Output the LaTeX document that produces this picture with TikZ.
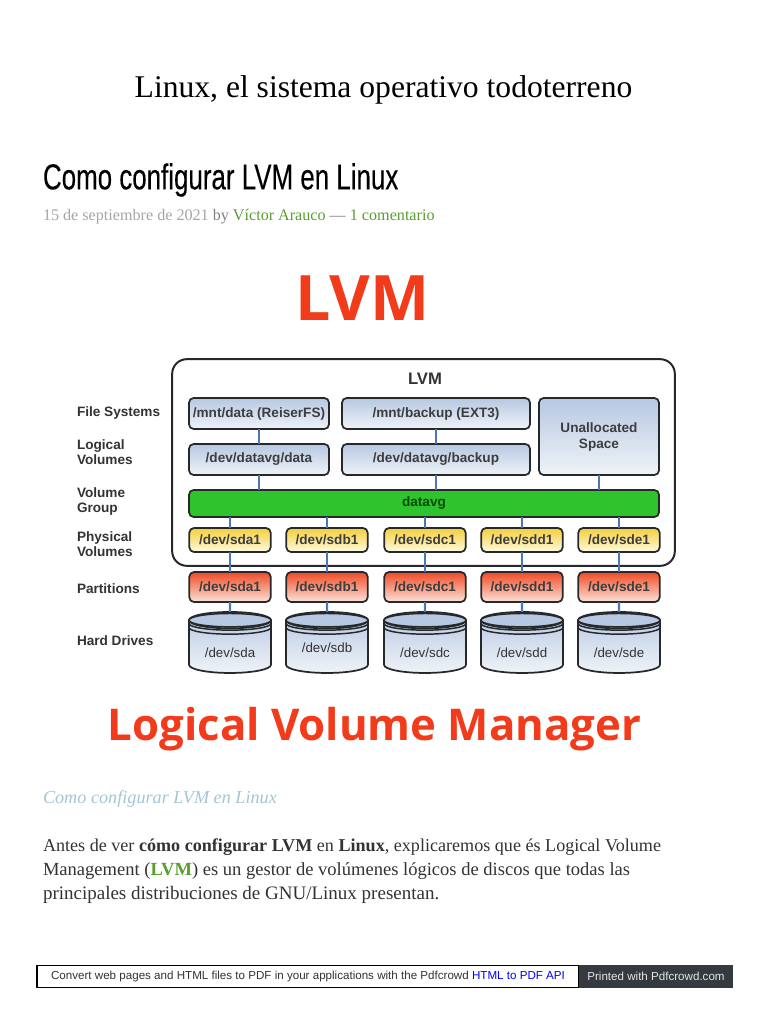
\documentclass[tikz,border=0pt]{standalone}
\usepackage{fontspec}
\setmainfont{Liberation Serif}
\newfontfamily\sansfont{Liberation Sans}
\newfontfamily\headfont[FakeStretch=0.72,FakeBold=0.2]{Liberation Sans}
\newfontfamily\redfont{Open Sans}
\usetikzlibrary{shapes.geometric}
\definecolor{linkblue}{HTML}{4A77B5}
\definecolor{boxline}{HTML}{26282B}
\definecolor{boxtop}{HTML}{B7C8E2}
\definecolor{boxend}{HTML}{EFF3F8}
\definecolor{lvmred}{HTML}{F23B1B}
\definecolor{pvtop}{HTML}{F4CF3A}
\definecolor{pvend}{HTML}{FFFBE2}
\definecolor{parttop}{HTML}{F04A25}
\definecolor{partend}{HTML}{FBE3DA}
\definecolor{vggreen}{HTML}{2EC42E}
\definecolor{linkgreen}{HTML}{5A9E2F}
\definecolor{bodygray}{HTML}{333333}
\definecolor{boxtext}{HTML}{3D3D3D}
\definecolor{footdark}{HTML}{343A40}
\newcommand{\drivetop}[1]{
    \draw[boxline, fill=boxtop, line width=1.1pt] (#1.before top) arc[start angle=180, end angle=540, x radius=30.75pt, y radius=5pt];
    \draw[boxline, line width=1.1pt] ([yshift=-2.5pt]#1.before top) arc[start angle=180, end angle=360, x radius=30.75pt, y radius=5pt];
    \draw[boxline, line width=1.1pt] ([yshift=-5.5pt]#1.before top) arc[start angle=180, end angle=360, x radius=30.75pt, y radius=5pt];
}
\begin{document}
\begin{tikzpicture}[x=0.75pt, y=-0.75pt, thick]
    \tikzstyle{every node}=[inner sep=0pt, outer sep=0pt, text=black]
    \tikzstyle{bodyline}=[anchor=west, text=bodygray]
    \tikzstyle{rowlabel}=[anchor=west, align=left, text=bodygray, font=\sansfont\bfseries\fontsize{10.2}{11.25}\selectfont]
    \tikzstyle{box}=[draw=boxline, line width=1.3pt, rounded corners=3.5pt, text=boxtext, font=\sansfont\bfseries\fontsize{10.2}{12}\selectfont, align=center]
    \tikzstyle{bluebox}=[box, top color=boxtop, bottom color=boxend]
    \tikzstyle{pvbox}=[box, top color=pvtop, bottom color=pvend, minimum width=61pt, minimum height=18pt]
    \tikzstyle{partbox}=[box, top color=parttop, bottom color=partend, minimum width=61pt, minimum height=22.5pt]
    \tikzstyle{drive}=[cylinder, shape border rotate=90, shape aspect=0.325, draw=boxline, line width=1.3pt, minimum width=61.5pt, minimum height=45.75pt, top color=boxtop, bottom color=boxend, font=\sansfont\fontsize{10}{11.25}\selectfont]
    \tikzstyle{drivelabel}=[text=bodygray, font=\sansfont\fontsize{10}{11.25}\selectfont]
    \tikzstyle{link}=[draw=linkblue, line width=1.7pt]

    \useasboundingbox (0,0) rectangle (768,1024);
    \fill[white] (0,0) rectangle (768,1024);

    \node at (383.5, 90) (title) {\fontsize{23.7}{28}\selectfont Linux, el sistema operativo todoterreno};
    \node[anchor=west] at (43, 180) (headline) {\headfont\fontsize{27}{32}\selectfont Como configurar LVM en Linux};
    \node[anchor=west] at (43, 217) (meta) {\fontsize{12.1}{14}\selectfont\textcolor{gray!70}{15 de septiembre de 2021} \textcolor{gray}{by} \textcolor{linkgreen}{Víctor Arauco} \textcolor{gray}{—} \textcolor{linkgreen}{1 comentario}};

    \node[text=lvmred, font=\redfont\bfseries\fontsize{47}{50}\selectfont] at (362.5, 298) (lvmword) {LVM};
    \node[text=lvmred, font=\redfont\bfseries\fontsize{32.8}{40}\selectfont] at (374.5, 729) (lvmname) {Logical Volume Manager};

    \node[rowlabel] at (77, 413) (lfs) {File Systems};
    \node[rowlabel] at (77, 452.5) (llv) {Logical\\Volumes};
    \node[rowlabel] at (77, 501) (lvg) {Volume\\Group};
    \node[rowlabel] at (77, 544) (lpv) {Physical\\Volumes};
    \node[rowlabel] at (77, 589) (lpart) {Partitions};
    \node[rowlabel] at (77, 641) (lhd) {Hard Drives};

    \node[draw=boxline, line width=1.5pt, rounded corners=11pt, minimum width=377pt, minimum height=155pt] at (423.5, 462.5) (lvmbox) {};
    \node[text=bodygray, font=\sansfont\bfseries\fontsize{12.5}{15}\selectfont] at (425, 379) (lvmlabel) {LVM};

    \node[bluebox, minimum width=105pt, minimum height=23.25pt] at (259, 413.5) (fsdata) {/mnt/data (ReiserFS)};
    \node[bluebox, minimum width=141pt, minimum height=23.25pt] at (436, 413.5) (fsbackup) {/mnt/backup (EXT3)};
    \node[bluebox, minimum width=105pt, minimum height=23.25pt] at (259, 459.5) (lvdata) {/dev/datavg/data};
    \node[bluebox, minimum width=141pt, minimum height=23.25pt] at (436, 459.5) (lvbackup) {/dev/datavg/backup};
    \node[bluebox, minimum width=90pt, minimum height=57.75pt] at (599, 436.5) (unalloc) {Unallocated\\Space};
    \node[box, fill=vggreen, minimum width=352.5pt, minimum height=20.25pt, text=green!30!black] at (424, 503.5) (datavg) {datavg};

    \node[pvbox] at (230, 540) (pva) {/dev/sda1};
    \node[pvbox] at (327, 540) (pvb) {/dev/sdb1};
    \node[pvbox] at (425, 540) (pvc) {/dev/sdc1};
    \node[pvbox] at (522, 540) (pvd) {/dev/sdd1};
    \node[pvbox] at (619, 540) (pve) {/dev/sde1};

    \node[partbox] at (230, 587) (parta) {/dev/sda1};
    \node[partbox] at (327, 587) (partb) {/dev/sdb1};
    \node[partbox] at (425, 587) (partc) {/dev/sdc1};
    \node[partbox] at (522, 587) (partd) {/dev/sdd1};
    \node[partbox] at (619, 587) (parte) {/dev/sde1};

    \node[drive] at (230, 647) (sda) {\phantom{/dev/sda}};
    \node[drive] at (327, 647) (sdb) {\phantom{/dev/sda}};
    \node[drive] at (425, 647) (sdc) {\phantom{/dev/sda}};
    \node[drive] at (522, 647) (sdd) {\phantom{/dev/sda}};
    \node[drive] at (619, 647) (sde) {\phantom{/dev/sda}};
    \drivetop{sda}
    \drivetop{sdb}
    \drivetop{sdc}
    \drivetop{sdd}
    \drivetop{sde}
    \node[drivelabel] at (230, 653) (sdatext) {/dev/sda};
    \node[drivelabel] at (327, 648) (sdbtext) {/dev/sdb};
    \node[drivelabel] at (425, 653) (sdctext) {/dev/sdc};
    \node[drivelabel] at (522, 653) (sddtext) {/dev/sdd};
    \node[drivelabel] at (619, 653) (sdetext) {/dev/sde};

    \path[link]
    (fsdata) edge (lvdata)
    (fsbackup) edge (lvbackup)
    (lvdata) edge (lvdata |- datavg.north)
    (lvbackup) edge (lvbackup |- datavg.north)
    (unalloc) edge (unalloc |- datavg.north)
    (pva) edge (pva |- datavg.south)
    (pvb) edge (pvb |- datavg.south)
    (pvc) edge (pvc |- datavg.south)
    (pvd) edge (pvd |- datavg.south)
    (pve) edge (pve |- datavg.south)
    (pva) edge (parta)
    (pvb) edge (partb)
    (pvc) edge (partc)
    (pvd) edge (partd)
    (pve) edge (parte)
    (parta) edge (sda.north)
    (partb) edge (sdb.north)
    (partc) edge (sdc.north)
    (partd) edge (sdd.north)
    (parte) edge (sde.north);

    \node[anchor=west, text=gray!60!cyan!60!white, font=\itshape\fontsize{13.65}{15}\selectfont] at (43, 799) (caption) {Como configurar LVM en Linux};
    \node[bodyline, font=\fontsize{13.58}{15}\selectfont] at (43, 847) (lineone) {Antes de ver \textbf{cómo configurar LVM} en \textbf{Linux}, explicaremos que és Logical Volume};
    \node[bodyline, font=\fontsize{13.9}{15}\selectfont] at (43, 871) (linetwo) {Management (\textcolor{linkgreen}{\textbf{LVM}}) es un gestor de volúmenes lógicos de discos que todas las};
    \node[bodyline, font=\fontsize{14.25}{15}\selectfont] at (43, 895) (linethree) {principales distribuciones de GNU/Linux presentan.};

    \node[draw=black, fill=white, line width=0.9pt, minimum width=406.5pt, minimum height=17pt, font=\sansfont\fontsize{8.7}{10}\selectfont, text=bodygray] at (308, 976.5) (convert) {Convert web pages and HTML files to PDF in your applications with the Pdfcrowd \textcolor{blue}{HTML to PDF API}\hspace{2pt}};
    \node[fill=footdark, minimum width=115.5pt, minimum height=17.5pt, font=\sansfont\fontsize{8.7}{10}\selectfont, text=white!90!black] at (656, 976.5) (printed) {Printed with Pdfcrowd.com};
\end{tikzpicture}
\end{document}
